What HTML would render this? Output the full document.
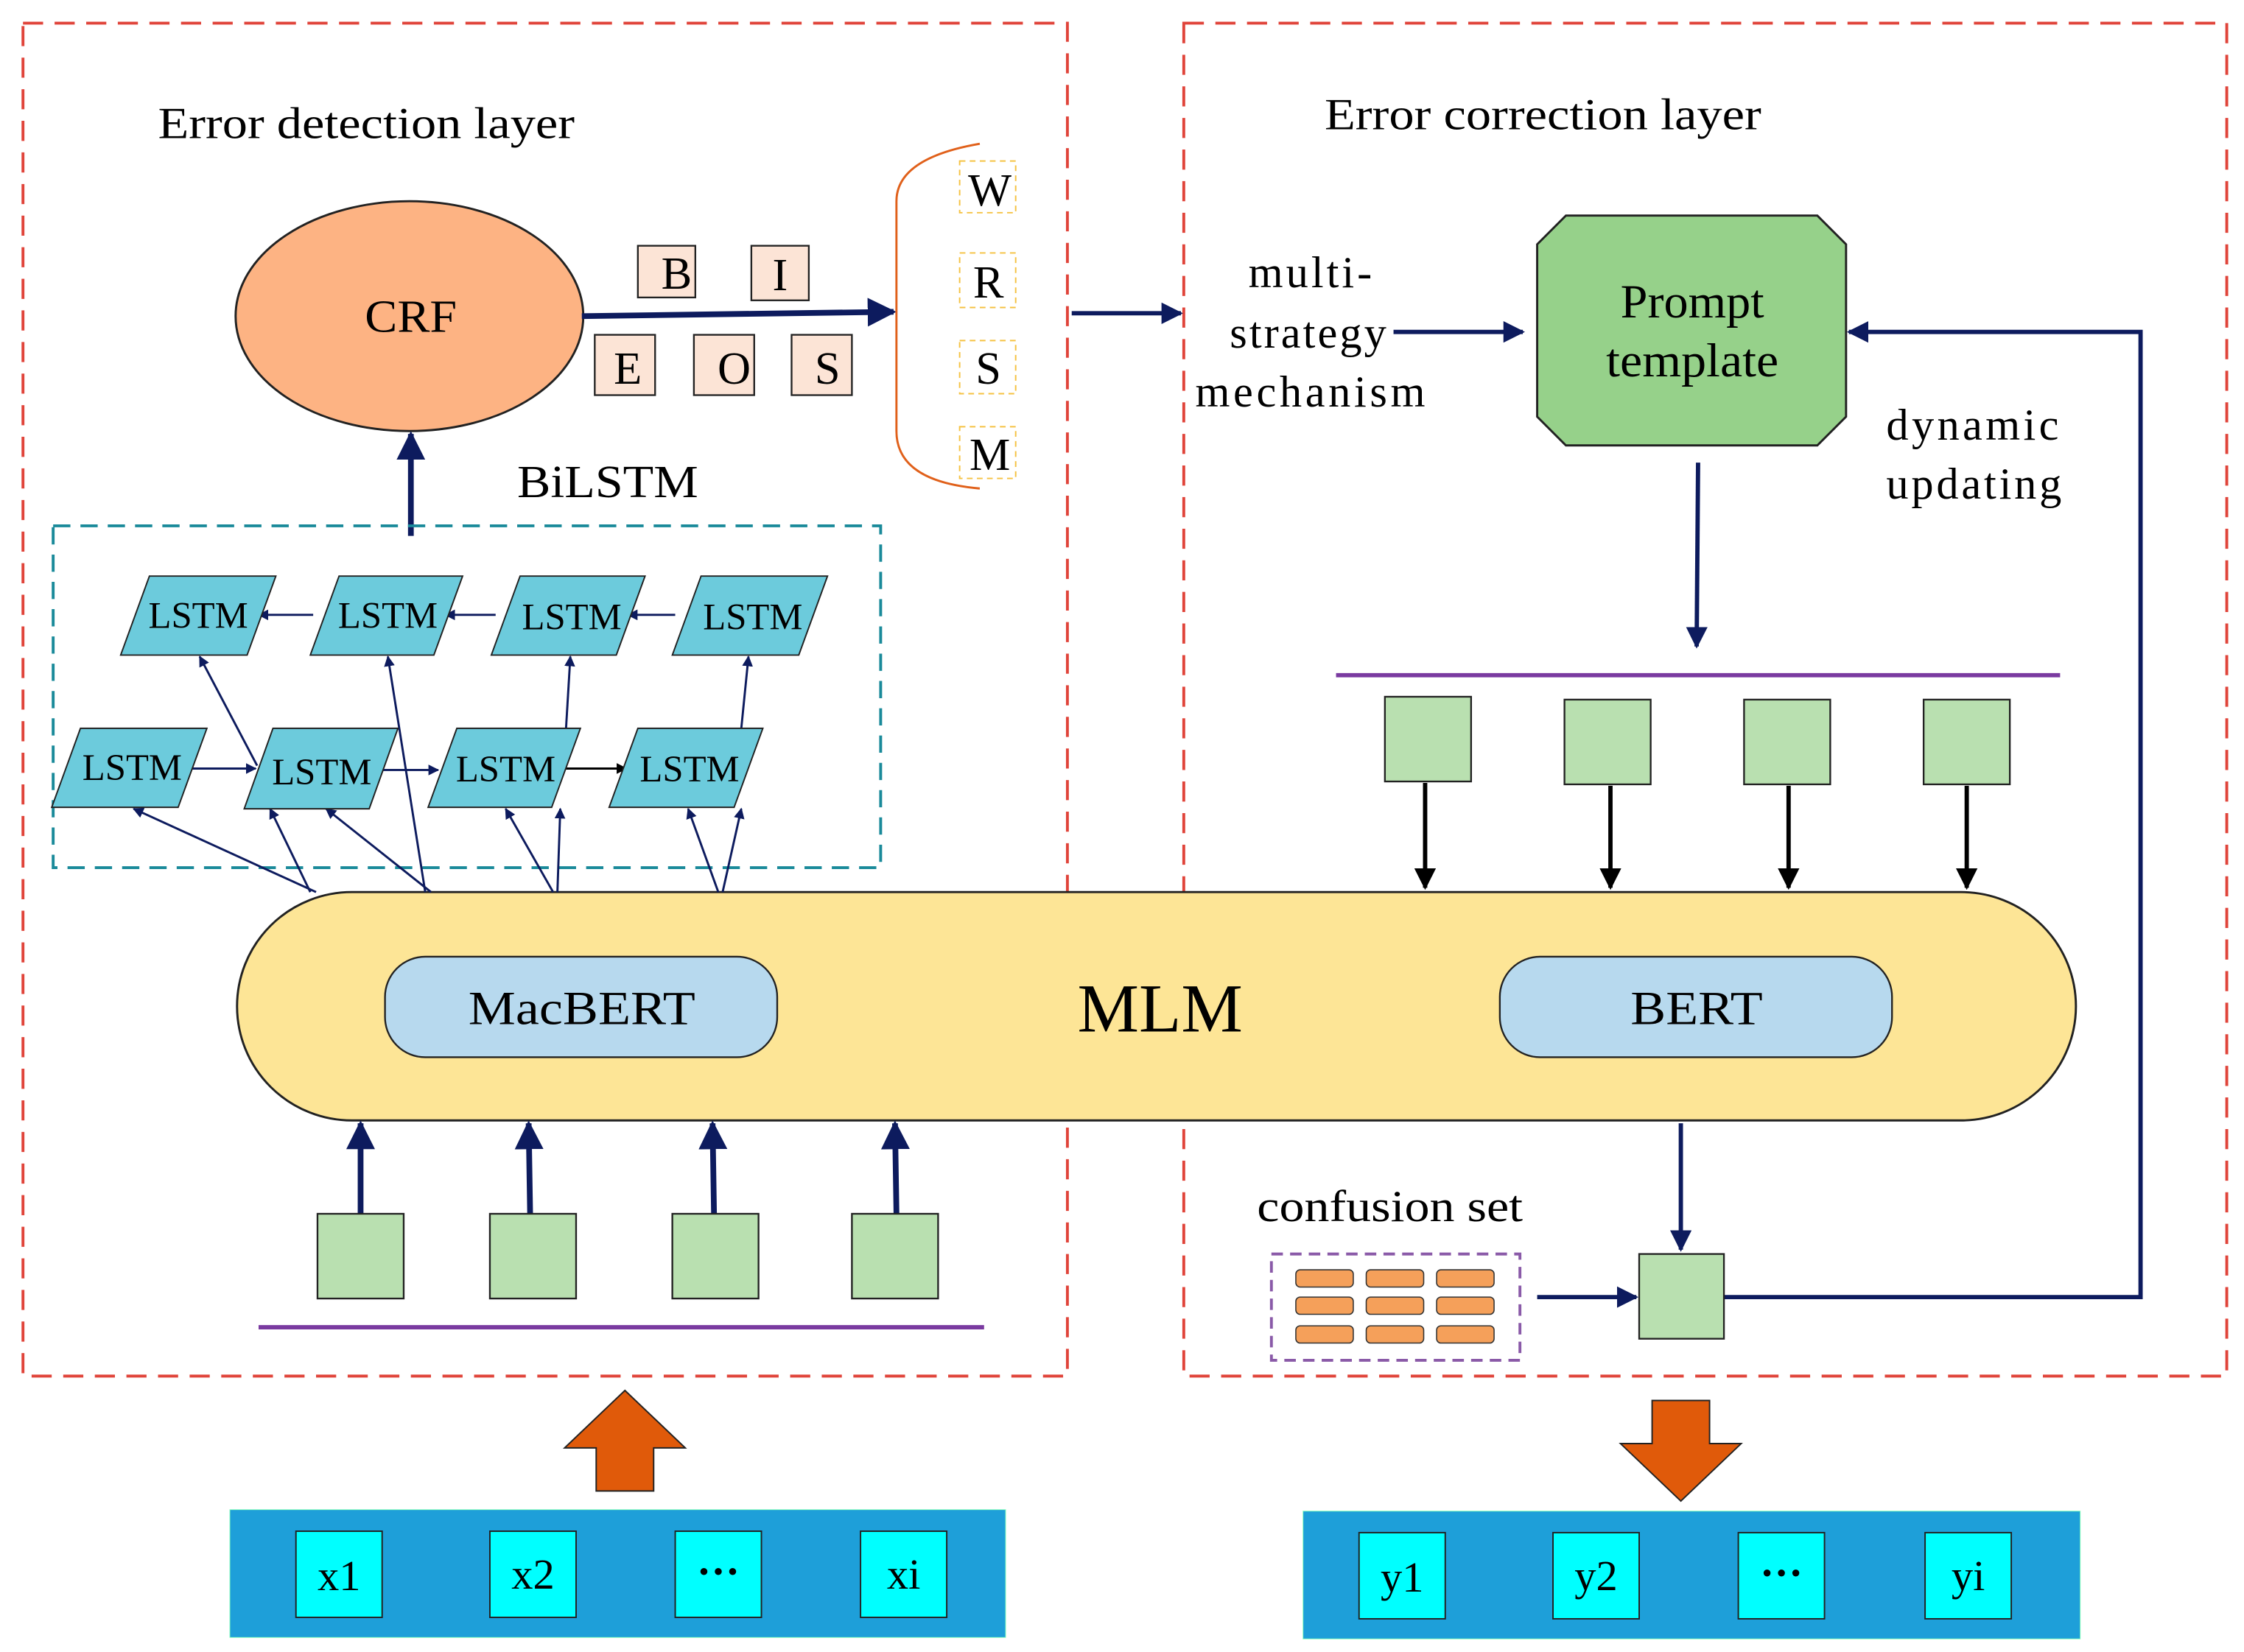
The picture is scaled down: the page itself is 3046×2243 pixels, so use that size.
<!DOCTYPE html>
<html><head><meta charset="utf-8"><style>html,body{margin:0;padding:0;background:#fff}svg{display:block}</style></head><body>
<svg width="3046" height="2243" viewBox="0 0 1562 1150" xmlns="http://www.w3.org/2000/svg" font-family="Liberation Serif, serif">
<defs>
<marker id="an" viewBox="0 0 10 10" refX="9" refY="5" markerWidth="5" markerHeight="5" orient="auto"><path d="M0,0L10,5L0,10z" fill="#0d1b5e"/></marker>
<marker id="ab" viewBox="0 0 10 10" refX="9" refY="5" markerWidth="5" markerHeight="5" orient="auto"><path d="M0,0L10,5L0,10z" fill="#000"/></marker>
</defs>
<rect x="16" y="16" width="727" height="942" fill="none" stroke="#e0443a" stroke-width="2" stroke-dasharray="14,8"/>
<rect x="824" y="16" width="726" height="942" fill="none" stroke="#e0443a" stroke-width="2" stroke-dasharray="14,8"/>
<text x="110" y="96" font-size="31" textLength="290" lengthAdjust="spacingAndGlyphs">Error detection layer</text>
<text x="922" y="90" font-size="31" textLength="304" lengthAdjust="spacingAndGlyphs">Error correction layer</text>
<ellipse cx="285" cy="220" rx="121" ry="80" fill="#FDB383" stroke="#222" stroke-width="1.5"/>
<text x="254" y="231" font-size="32" textLength="64" lengthAdjust="spacingAndGlyphs">CRF</text>
<g fill="#FCE4D6" stroke="#222" stroke-width="1.2">
<rect x="444" y="171" width="40" height="36"/><rect x="523" y="171" width="40" height="38"/>
<rect x="414" y="233" width="42" height="42"/><rect x="483" y="233" width="42" height="42"/><rect x="551" y="233" width="42" height="42"/></g>
<g font-size="32" text-anchor="middle"><text x="471" y="201">B</text><text x="543" y="202">I</text><text x="437" y="267">E</text><text x="511" y="267">O</text><text x="576" y="267">S</text></g>
<line x1="405" y1="220" x2="622" y2="217" stroke="#0d1b5e" stroke-width="4" marker-end="url(#an)"/>
<path d="M682,100 Q624,110 624,140 L624,300 Q624,335 682,340" fill="none" stroke="#e0601a" stroke-width="1.5"/>
<g fill="none" stroke="#f5c242" stroke-dasharray="4,3"><rect x="668" y="112" width="39" height="36"/><rect x="668" y="176" width="39" height="38"/><rect x="668" y="237" width="39" height="37"/><rect x="668" y="297" width="39" height="36"/></g>
<g font-size="32" text-anchor="middle"><text x="689" y="143">W</text><text x="688" y="207">R</text><text x="688" y="267">S</text><text x="689" y="327">M</text></g>
<line x1="746" y1="218" x2="822" y2="218" stroke="#0d1b5e" stroke-width="3" marker-end="url(#an)"/>
<g font-size="31" lengthAdjust="spacingAndGlyphs">
<text x="869" y="200" textLength="86">multi-</text><text x="856" y="242" textLength="109">strategy</text><text x="832" y="283" textLength="160">mechanism</text>
<text x="1313" y="306" textLength="120">dynamic</text><text x="1313" y="347" textLength="122">updating</text></g>
<line x1="970" y1="231" x2="1060" y2="231" stroke="#0d1b5e" stroke-width="3" marker-end="url(#an)"/>
<path d="M1090,150 L1265,150 L1285,170 L1285,290 L1265,310 L1090,310 L1070,290 L1070,170 Z" fill="#96D18A" stroke="#222" stroke-width="1.5"/>
<text x="1128" y="221" font-size="33" textLength="100" lengthAdjust="spacingAndGlyphs">Prompt</text><text x="1118" y="262" font-size="33" textLength="120" lengthAdjust="spacingAndGlyphs">template</text>
<polyline points="1200,903 1490,903 1490,231 1287,231" fill="none" stroke="#0d1b5e" stroke-width="3" marker-end="url(#an)"/>
<line x1="1182" y1="322" x2="1181" y2="450" stroke="#0d1b5e" stroke-width="3" marker-end="url(#an)"/>
<line x1="930" y1="470" x2="1434" y2="470" stroke="#7a3aa0" stroke-width="3"/>
<g fill="#B9E0B0" stroke="#222" stroke-width="1.2"><rect x="964" y="485" width="60" height="59"/><rect x="1089" y="487" width="60" height="59"/><rect x="1214" y="487" width="60" height="59"/><rect x="1339" y="487" width="60" height="59"/></g>
<g stroke="#000" stroke-width="3" marker-end="url(#ab)"><line x1="992" y1="545" x2="992" y2="618"/><line x1="1121" y1="547" x2="1121" y2="618"/><line x1="1245" y1="547" x2="1245" y2="618"/><line x1="1369" y1="547" x2="1369" y2="618"/></g>
<rect x="165" y="621" width="1280" height="159" rx="80" fill="#FDE596" stroke="#222" stroke-width="1.5"/>
<rect x="268" y="666" width="273" height="70" rx="28" fill="#B7D9EE" stroke="#222" stroke-width="1.2"/>
<rect x="1044" y="666" width="273" height="70" rx="28" fill="#B7D9EE" stroke="#222" stroke-width="1.2"/>
<text x="326" y="713" font-size="33" textLength="158" lengthAdjust="spacingAndGlyphs">MacBERT</text>
<text x="1135" y="713" font-size="33" textLength="92" lengthAdjust="spacingAndGlyphs">BERT</text>
<text x="750" y="718" font-size="48" textLength="115" lengthAdjust="spacingAndGlyphs">MLM</text>
<text x="360" y="346" font-size="32" textLength="126" lengthAdjust="spacingAndGlyphs">BiLSTM</text>
<line x1="286" y1="373" x2="286" y2="302" stroke="#0d1b5e" stroke-width="4" marker-end="url(#an)"/>
<rect x="37" y="366" width="576" height="238" fill="none" stroke="#1a8a9a" stroke-width="2" stroke-dasharray="12,7"/>
<g stroke="#0d1b5e" stroke-width="1.5" fill="none" marker-end="url(#an)">
<line x1="218" y1="428" x2="180" y2="428"/><line x1="345" y1="428" x2="310" y2="428"/><line x1="470" y1="428" x2="437" y2="428"/>
<line x1="130" y1="535" x2="178" y2="535"/><line x1="262" y1="536" x2="305" y2="536"/>
<line x1="179" y1="533" x2="139" y2="457"/><line x1="296" y1="621" x2="270" y2="457"/><line x1="394" y1="507" x2="397" y2="457"/><line x1="516" y1="507" x2="521" y2="457"/>
<line x1="220" y1="621" x2="93" y2="563"/><line x1="300" y1="621" x2="227" y2="563"/><line x1="385" y1="621" x2="352" y2="563"/><line x1="500" y1="621" x2="479" y2="563"/>
<line x1="216" y1="621" x2="188" y2="563"/><line x1="388" y1="621" x2="390" y2="563"/><line x1="503" y1="621" x2="516" y2="563"/>
</g>
<line x1="390" y1="535" x2="436" y2="535" stroke="#000" stroke-width="1.5" marker-end="url(#ab)"/>
<g fill="#6CCBDC" stroke="#222" stroke-width="1"><path d="M104,401L192,401L172,456L84,456Z"/><path d="M236,401L322,401L302,456L216,456Z"/><path d="M362,401L449,401L429,456L342,456Z"/><path d="M488,401L576,401L556,456L468,456Z"/>
<path d="M56,507L144,507L124,562L36,562Z"/><path d="M190,507L277,507L257,563L170,563Z"/><path d="M318,507L404,507L384,562L298,562Z"/><path d="M444,507L531,507L511,562L424,562Z"/></g>
<g font-size="26" text-anchor="middle"><text x="138" y="437">LSTM</text><text x="270" y="437">LSTM</text><text x="398" y="438">LSTM</text><text x="524" y="438">LSTM</text>
<text x="92" y="543">LSTM</text><text x="224" y="546">LSTM</text><text x="352" y="544">LSTM</text><text x="480" y="544">LSTM</text></g>
<g stroke="#0d1b5e" stroke-width="4" marker-end="url(#an)"><line x1="251" y1="845" x2="251" y2="782"/><line x1="369" y1="845" x2="368" y2="782"/><line x1="497" y1="845" x2="496" y2="782"/><line x1="624" y1="845" x2="623" y2="782"/></g>
<g fill="#B9E0B0" stroke="#222" stroke-width="1.2"><rect x="221" y="845" width="60" height="59"/><rect x="341" y="845" width="60" height="59"/><rect x="468" y="845" width="60" height="59"/><rect x="593" y="845" width="60" height="59"/><rect x="1141" y="873" width="59" height="59"/></g>
<line x1="180" y1="924" x2="685" y2="924" stroke="#7a3aa0" stroke-width="3"/>
<text x="875" y="850" font-size="31" textLength="185" lengthAdjust="spacingAndGlyphs">confusion set</text>
<rect x="885" y="873" width="173" height="74" fill="none" stroke="#8a5aa8" stroke-width="2" stroke-dasharray="8,5"/>
<g fill="#F5A05A" stroke="#333" stroke-width="0.8">
<rect x="902" y="884" width="40" height="12" rx="3"/><rect x="951" y="884" width="40" height="12" rx="3"/><rect x="1000" y="884" width="40" height="12" rx="3"/>
<rect x="902" y="903" width="40" height="12" rx="3"/><rect x="951" y="903" width="40" height="12" rx="3"/><rect x="1000" y="903" width="40" height="12" rx="3"/>
<rect x="902" y="923" width="40" height="12" rx="3"/><rect x="951" y="923" width="40" height="12" rx="3"/><rect x="1000" y="923" width="40" height="12" rx="3"/></g>
<line x1="1070" y1="903" x2="1139" y2="903" stroke="#0d1b5e" stroke-width="3" marker-end="url(#an)"/>
<line x1="1170" y1="782" x2="1170" y2="870" stroke="#0d1b5e" stroke-width="3" marker-end="url(#an)"/>
<path d="M435,968 L477,1008 L455,1008 L455,1038 L415,1038 L415,1008 L393,1008 Z" fill="#E05A0A" stroke="#222" stroke-width="1"/>
<path d="M1170,1045 L1212,1005 L1190,1005 L1190,975 L1150,975 L1150,1005 L1128,1005 Z" fill="#E05A0A" stroke="#222" stroke-width="1"/>
<rect x="160" y="1051" width="540" height="89" fill="#1E9FD9" stroke="#8fb" stroke-width="0.5"/>
<rect x="907" y="1052" width="541" height="89" fill="#1E9FD9" stroke="#8fb" stroke-width="0.5"/>
<g fill="#00FFFF" stroke="#222" stroke-width="1"><rect x="206" y="1066" width="60" height="60"/><rect x="341" y="1066" width="60" height="60"/><rect x="470" y="1066" width="60" height="60"/><rect x="599" y="1066" width="60" height="60"/>
<rect x="946" y="1067" width="60" height="60"/><rect x="1081" y="1067" width="60" height="60"/><rect x="1210" y="1067" width="60" height="60"/><rect x="1340" y="1067" width="60" height="60"/></g>
<g font-size="30" text-anchor="middle"><text x="236" y="1107">x1</text><text x="371" y="1106">x2</text><text x="500" y="1104" font-weight="bold">···</text><text x="629" y="1106">xi</text>
<text x="976" y="1108">y1</text><text x="1111" y="1107">y2</text><text x="1240" y="1105" font-weight="bold">···</text><text x="1370" y="1107">yi</text></g>
</svg>
</body></html>
